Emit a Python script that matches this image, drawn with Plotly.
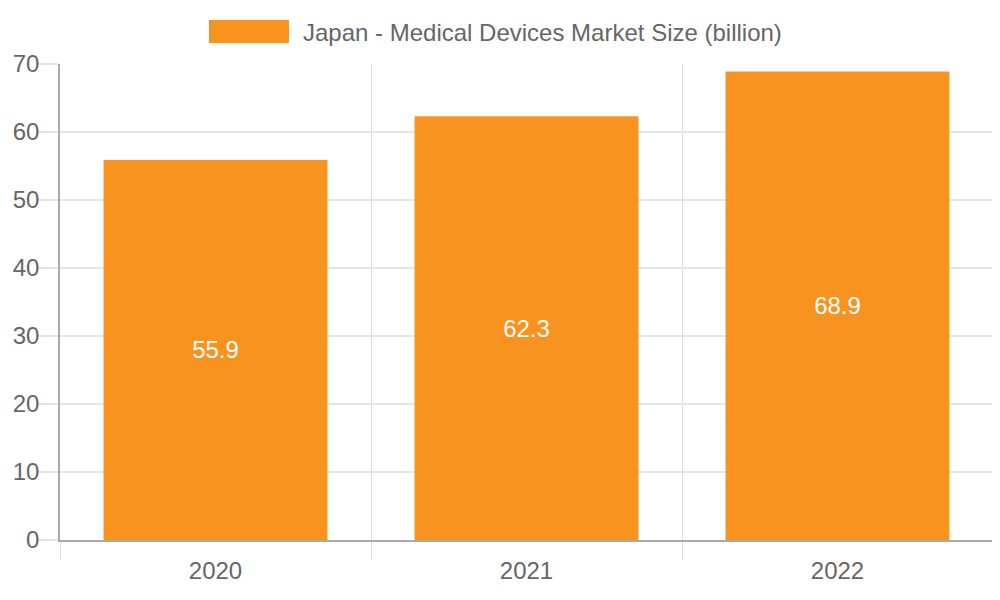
import plotly.graph_objects as go

# Japan medical devices market size (billion)
years = ['2020', '2021', '2022']
market_size = [55.9, 62.3, 68.9]
series_name = 'Japan - Medical Devices Market Size (billion)'
y_ticks = [0, 10, 20, 30, 40, 50, 60, 70]

bar_color = '#F7931E'
font_family = 'Liberation Sans, Arial, sans-serif'

fig = go.Figure()
fig.add_trace(go.Bar(
    x=years,
    y=market_size,
    name=series_name,
    marker=dict(color=bar_color, line=dict(width=0)),
    text=[f'{v:.1f}' for v in market_size],
    textposition='inside',
    insidetextanchor='middle',
    textfont=dict(color='white', size=24, family=font_family),
    showlegend=False,
))

# wide legend box like the original, drawn above the plot
fig.add_shape(type='rect', xref='paper', yref='paper',
              x0=0.1597, x1=0.2454, y0=1.0441, y1=1.0924,
              fillcolor=bar_color, line=dict(width=0))
fig.add_annotation(text=series_name, xref='paper', yref='paper',
                   x=0.2583, y=1.0672, xanchor='left', yanchor='middle',
                   showarrow=False,
                   font=dict(size=24, color='#666666', family=font_family))

fig.update_layout(
    width=1000, height=600,
    margin=dict(l=52, r=15, t=56, b=68),
    plot_bgcolor='white', paper_bgcolor='white',
    bargap=0.28,
    font=dict(family=font_family, size=24, color='#666666'),
    uniformtext=dict(minsize=24, mode='show'),
)
fig.update_xaxes(
    type='category',
    tickson='boundaries',
    automargin=False,
    ticks='outside', ticklen=18, tickcolor='#dddddd', tickwidth=1,
    showgrid=True, gridcolor='#dddddd', gridwidth=1,
    showline=True, linecolor='#aaaaaa', linewidth=1.5,
    tickfont=dict(size=24, color='#666666'),
    ticklabelstandoff=8,
)
fig.update_yaxes(
    range=[0, 70],
    tickvals=y_ticks,
    automargin=False,
    ticks='outside', ticklen=20, tickcolor='#e5e5e5', tickwidth=1.5,
    showgrid=True, gridcolor='#e5e5e5', gridwidth=1.5,
    zeroline=False,
    showline=True, linecolor='#aaaaaa', linewidth=1.5,
    tickfont=dict(size=24, color='#666666'),
    ticklabelstandoff=-6,
)

fig.write_html('out.html')
